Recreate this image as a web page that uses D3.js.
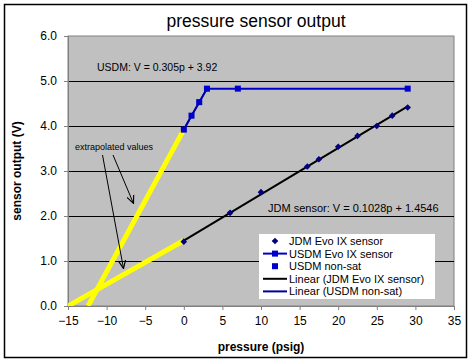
<!DOCTYPE html>
<html><head><meta charset="utf-8">
<script src="https://cdn.jsdelivr.net/npm/d3@7"></script>
<style>body{margin:0;background:#fff}svg{display:block;font-family:Arial,"Liberation Sans",sans-serif}</style>
</head><body><svg id="c" width="474" height="364"></svg>
<script>
// Data
const jdmP = [0, 6, 10, 16, 17.5, 20, 22.5, 25, 27, 29];
const jdmV = [1.43, 2.07, 2.53, 3.10, 3.26, 3.54, 3.78, 4.00, 4.23, 4.41];
const usdmP = [0, 1, 2, 3, 7, 29];
const usdmV = [3.92, 4.23, 4.53, 4.83, 4.83, 4.83];
const nonSatP = [0, 1, 2, 3];
const nonSatV = [3.92, 4.23, 4.53, 4.83];
const jdmFit = {slope: 0.1028, intercept: 1.4546, from: 0, to: 29};
const usdmFit = {slope: 0.305, intercept: 3.92, from: 0, to: 3};
const extrapJdm = [[-15, 0], [0, 1.4546]];
const extrapUsdm = [[-12.4, 0], [0, 3.92]];
const xTicks = [-15, -10, -5, 0, 5, 10, 15, 20, 25, 30, 35];
const yTicks = [0, 1, 2, 3, 4, 5, 6];
const legendItems = ["JDM Evo IX sensor", "USDM Evo IX sensor", "USDM non-sat", "Linear (JDM Evo IX sensor)", "Linear (USDM non-sat)"];

const svg = d3.select("#c");
const L = 68, R = 454, T = 36, B = 306;
const x = d3.scaleLinear().domain([-15, 35]).range([L, R]);
const y = d3.scaleLinear().domain([0, 6]).range([B, T]);

// outer border
svg.append("rect").attr("x", 4.5).attr("y", 4.5).attr("width", 462).attr("height", 353)
  .attr("fill", "#fff").attr("stroke", "#000").attr("stroke-width", 1.5);

// plot area
svg.append("rect").attr("x", L).attr("y", T).attr("width", R - L).attr("height", B - T)
  .attr("fill", "#c0c0c0").attr("stroke", "#808080").attr("stroke-width", 1);

// gridlines
svg.append("g").selectAll("line").data(yTicks.filter(d => d > 0 && d < 6)).join("line")
  .attr("x1", L).attr("x2", R).attr("y1", d => y(d) + 0.5).attr("y2", d => y(d) + 0.5)
  .attr("stroke", "#000").attr("stroke-width", 1);

// axes
const xAxis = svg.append("g").attr("transform", `translate(0,${B})`)
  .call(d3.axisBottom(x).tickValues(xTicks).tickSize(4).tickSizeOuter(0).tickPadding(6).tickFormat(d3.format("d")));
xAxis.select(".domain").attr("stroke", "#808080");
xAxis.selectAll(".tick line").attr("stroke", "#808080");
xAxis.selectAll("text").attr("font-size", 12).attr("fill", "#000").attr("font-family", "Arial, Liberation Sans, sans-serif");

const yAxis = svg.append("g").attr("transform", `translate(${L},0)`)
  .call(d3.axisLeft(y).tickValues(yTicks).tickSize(4).tickSizeOuter(0).tickPadding(7).tickFormat(d3.format(".1f")));
yAxis.select(".domain").attr("stroke", "#808080");
yAxis.selectAll(".tick line").attr("stroke", "#808080");
yAxis.selectAll("text").attr("font-size", 12).attr("fill", "#000").attr("font-family", "Arial, Liberation Sans, sans-serif");

const line = d3.line().x(d => x(d[0])).y(d => y(d[1]));
svg.append("clipPath").attr("id", "pc").append("rect")
  .attr("x", L).attr("y", T).attr("width", R - L).attr("height", B - T);
const plot = svg.append("g").attr("clip-path", "url(#pc)");

// yellow extrapolations
[extrapJdm, extrapUsdm].forEach(seg => {
  plot.append("path").attr("d", line(seg)).attr("fill", "none")
    .attr("stroke", "#ffff00").attr("stroke-width", 5);
});

// USDM series line
const usdmPts = usdmP.map((p, i) => [p, usdmV[i]]);
plot.append("path").attr("d", line(usdmPts)).attr("fill", "none")
  .attr("stroke", "#0000cc").attr("stroke-width", 2);
// USDM fit line
plot.append("path").attr("d", line([[usdmFit.from, usdmFit.intercept + usdmFit.slope * usdmFit.from], [usdmFit.to, usdmFit.intercept + usdmFit.slope * usdmFit.to]]))
  .attr("fill", "none").attr("stroke", "#000099").attr("stroke-width", 1.5);
// JDM fit line
plot.append("path").attr("d", line([[jdmFit.from, jdmFit.intercept + jdmFit.slope * jdmFit.from], [jdmFit.to, jdmFit.intercept + jdmFit.slope * jdmFit.to]]))
  .attr("fill", "none").attr("stroke", "#000").attr("stroke-width", 2);

// markers
plot.append("g").selectAll("rect").data(usdmPts).join("rect")
  .attr("x", d => x(d[0]) - 3).attr("y", d => y(d[1]) - 3).attr("width", 6).attr("height", 6)
  .attr("fill", "#0000cc");
plot.append("g").selectAll("rect").data(nonSatP.map((p, i) => [p, nonSatV[i]])).join("rect")
  .attr("x", d => x(d[0]) - 2.5).attr("y", d => y(d[1]) - 2.5).attr("width", 5).attr("height", 5)
  .attr("fill", "#0000cc");
const diamond = "M0,-3.3L3.3,0L0,3.3L-3.3,0Z";
plot.append("g").selectAll("path").data(jdmP.map((p, i) => [p, jdmV[i]])).join("path")
  .attr("transform", d => `translate(${x(d[0])},${y(d[1])})`).attr("d", diamond).attr("fill", "#000080");

// annotations
svg.append("text").attr("x", 97).attr("y", 71).attr("font-size", 10.5).text("USDM: V = 0.305p + 3.92");
svg.append("text").attr("x", 268).attr("y", 212).attr("font-size", 11).text("JDM sensor: V = 0.1028p + 1.4546");
svg.append("text").attr("x", 75).attr("y", 150).attr("font-size", 9).text("extrapolated values");

// arrows
const defs = svg.append("defs");
defs.append("marker").attr("id", "ah").attr("viewBox", "0 0 10 10").attr("refX", 9).attr("refY", 5)
  .attr("markerWidth", 9).attr("markerHeight", 9).attr("orient", "auto").attr("markerUnits", "userSpaceOnUse")
  .append("path").attr("d", "M0,1 L9,5 L0,9").attr("fill", "none").attr("stroke", "#000").attr("stroke-width", 1.3);
svg.append("line").attr("x1", 113).attr("y1", 155).attr("x2", 133.5).attr("y2", 203.5)
  .attr("stroke", "#000").attr("stroke-width", 1).attr("marker-end", "url(#ah)");
svg.append("line").attr("x1", 102.5).attr("y1", 155).attr("x2", 123.5).attr("y2", 268.5)
  .attr("stroke", "#000").attr("stroke-width", 1).attr("marker-end", "url(#ah)");

// title & axis labels
svg.append("text").attr("x", 256).attr("y", 27).attr("text-anchor", "middle").attr("font-size", 17.5).text("pressure sensor output");
svg.append("text").attr("x", 261).attr("y", 351).attr("text-anchor", "middle").attr("font-size", 12).attr("font-weight", "bold").text("pressure (psig)");
svg.append("text").attr("transform", "translate(21,171) rotate(-90)").attr("text-anchor", "middle")
  .attr("font-size", 12).attr("font-weight", "bold").text("sensor output (V)");

// legend
const lg = svg.append("g");
lg.append("rect").attr("x", 259).attr("y", 234).attr("width", 176).attr("height", 65).attr("fill", "#fff");
const rowY = i => 241 + i * 12.6;
legendItems.forEach((name, i) => {
  const cy = rowY(i);
  if (i === 1) lg.append("line").attr("x1", 263).attr("x2", 287).attr("y1", cy).attr("y2", cy).attr("stroke", "#0000cc").attr("stroke-width", 2);
  if (i === 3) lg.append("line").attr("x1", 263).attr("x2", 287).attr("y1", cy).attr("y2", cy).attr("stroke", "#000").attr("stroke-width", 2);
  if (i === 4) lg.append("line").attr("x1", 263).attr("x2", 287).attr("y1", cy).attr("y2", cy).attr("stroke", "#000099").attr("stroke-width", 2);
  if (i === 0) lg.append("path").attr("transform", `translate(275,${cy})`).attr("d", diamond).attr("fill", "#000080");
  if (i === 1 || i === 2) lg.append("rect").attr("x", 272).attr("y", cy - 3).attr("width", 6).attr("height", 6).attr("fill", "#0000cc");
  lg.append("text").attr("x", 289).attr("y", cy + 4).attr("font-size", 11).text(name);
});
</script></body></html>
